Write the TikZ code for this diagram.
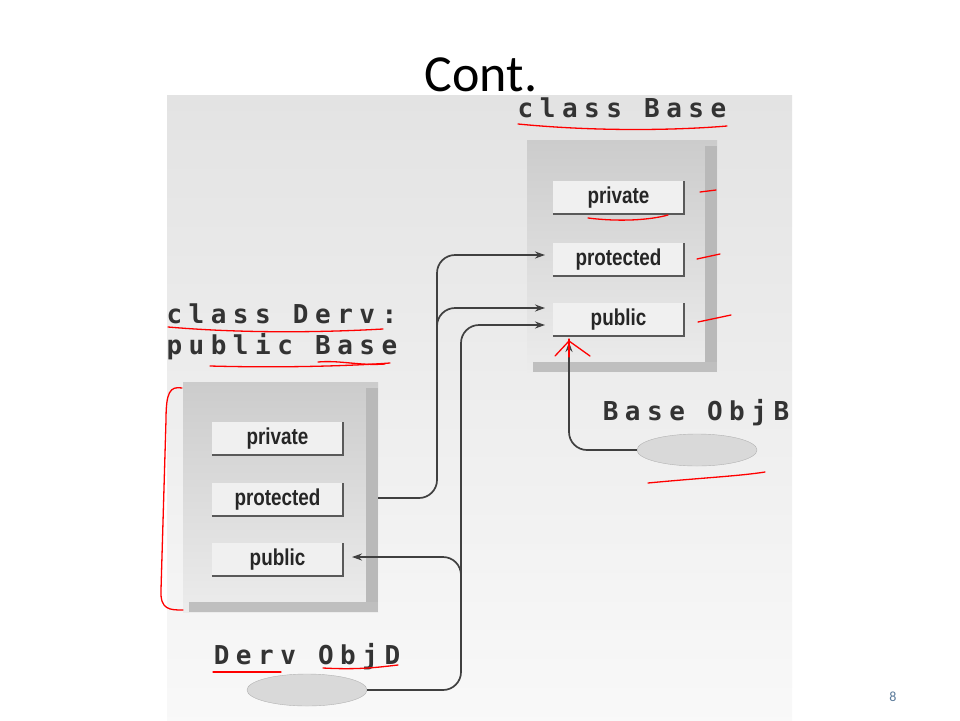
\documentclass[tikz,border=0pt]{standalone}
\usepackage{fontspec}
\setmainfont{Carlito}
\newfontfamily\codefont[LetterSpace=25]{DejaVu Sans Mono}
\newfontfamily\narrowfont[FakeStretch=0.82]{Liberation Sans}
\usetikzlibrary{arrows.meta,shapes.geometric}
\definecolor{numc}{HTML}{5A7A9A}
\tikzset{
  inbox/.style={draw=none, fill=gray!12, minimum width=131pt, minimum height=33pt, font=\narrowfont\bfseries\fontsize{23}{23}\selectfont, text=black!85},
  lbl/.style={font=\codefont\bfseries\fontsize{26}{31}\selectfont, text=black!80, align=left},
  obj/.style={ellipse, fill=gray!30, draw=gray!60, minimum width=120pt, minimum height=32pt, inner sep=0},
  conn/.style={draw=black!75, line width=1.7pt, rounded corners=18pt},
  arr/.style={-{Stealth[length=10pt,width=7pt]}},
  ink/.style={draw=red, line width=1.3pt, line cap=round}
}
\begin{document}
\begin{tikzpicture}[x=1pt,y=-1pt]
\useasboundingbox (0,0) rectangle (960,720);
\fill[white] (0,0) rectangle (960,720);
\shade[top color=gray!22, bottom color=gray!5] (167,95) rectangle (792,720);
\node[font=\fontsize{52}{52}\selectfont] (title) at (481,75) {Cont.};
\node[font=\fontsize{14}{14}\selectfont, text=numc] (pg) at (893,697) {8};
% Base box
\shade[top color=gray!40, bottom color=gray!15] (527,140) rectangle (717,372);
\fill[gray!55] (705,146) rectangle (717,372);
\fill[gray!50] (533,362) rectangle (717,372);
\node[inbox] (bpriv) at (618.5,197.5) {private};
\node[inbox] (bprot) at (618.5,259.5) {protected};
\node[inbox] (bpub) at (618.5,319.5) {public};
% Derv box
\shade[top color=gray!40, bottom color=gray!15] (183,382) rectangle (378,612);
\fill[gray!55] (366,388) rectangle (378,612);
\fill[gray!50] (189,602) rectangle (378,612);
\node[inbox] (dpriv) at (277.5,438.5) {private};
\node[inbox] (dprot) at (277.5,499.5) {protected};
\node[inbox] (dpub) at (277.5,559.5) {public};
\foreach \n in {bpriv,bprot,bpub,dpriv,dprot,dpub}{
  \draw[gray!70!black, line width=2.5pt] (\n.south west) -- (\n.south east) -- (\n.north east);
}
% labels
\node[lbl] (lbase) at (622,108) {class Base};
\node[lbl, anchor=north west] (lderv) at (163,300) {class Derv:\\public Base};
\node[lbl] (lobjb) at (696,413) {Base ObjB};
\node[lbl] (lobjd) at (307,657) {Derv ObjD};
\node[obj] (objb) at (697,450) {};
\node[obj] (objd) at (307,690) {};
% connectors
\coordinate (t1) at (545,255);
\coordinate (t2) at (545,308);
\coordinate (t3) at (545,325);
\coordinate (t4) at (352,557);
\coordinate (t5) at (569,342);
\draw[conn, arr] (378,498) -| (437,255) -- (t1);
\draw[conn, arr] (437,330) |- (t2);
\draw[conn, arr] (objd.east) -| (461,325) -- (t3);
\draw[conn, arr] (461,600) |- (t4);
\draw[conn, arr] (objb.west) -| (t5);
% red annotations
\draw[ink] (518,124) .. controls (600,132) and (680,130) .. (727,126);
\draw[ink] (588,218) .. controls (620,222) and (650,220) .. (668,215);
\draw[ink] (700,192) -- (716,190);
\draw[ink] (697,259) -- (720,254);
\draw[ink] (698,322) -- (731,315);
\draw[ink] (569,357) -- (569,339);
\draw[ink] (555,356) -- (569,341) -- (590,356);
\draw[ink] (168,327) .. controls (250,334) and (330,332) .. (383,329);
\draw[ink] (210,366) .. controls (280,368) and (350,366) .. (390,363);
\draw[ink] (318,362) .. controls (340,360) and (360,366) .. (385,364);
\draw[ink] (182,388) .. controls (170,386) and (166,392) .. (166,420) -- (161,590) .. controls (160,610) and (170,610) .. (183,610);
\draw[ink] (648,483) .. controls (700,478) and (740,476) .. (765,472);
\draw[ink] (213,672) -- (281,672);
\draw[ink] (323,668) .. controls (360,670) and (380,667) .. (398,665);
\end{tikzpicture}
\end{document}
